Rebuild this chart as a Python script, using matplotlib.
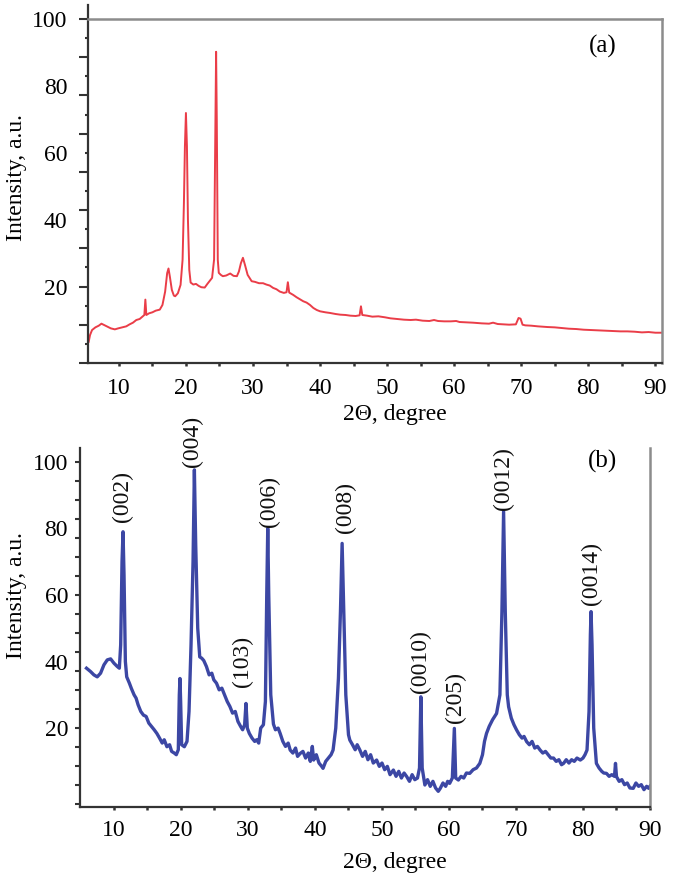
import numpy as np
import matplotlib
matplotlib.use("Agg")
import matplotlib.pyplot as plt

plt.rcParams['font.family'] = ['Liberation Serif', 'DejaVu Serif']

# (a) pattern, red
a_x = [5.5, 5.7, 6.0, 6.5, 7.0, 7.4, 7.8, 8.3, 8.8, 9.4, 9.9, 10.5, 11.1, 11.6, 12.1, 12.6,
       13.1, 13.5, 13.8, 13.95, 14.1, 14.5, 15.0, 15.5, 16.1, 16.5, 16.9, 17.2, 17.4, 17.6,
       17.9, 18.2, 18.4, 18.8, 19.2, 19.5, 19.7, 19.85, 20.0, 20.15, 20.3, 20.5, 20.7, 21.1,
       21.5, 21.9, 22.3, 22.8, 23.2, 23.6, 23.9, 24.2, 24.4, 24.5, 24.6, 24.75, 24.9, 25.2,
       25.5, 26.0, 26.6, 27.1, 27.6, 27.9, 28.2, 28.5, 28.8, 29.2, 29.8, 30.3, 30.9, 31.5,
       32.0, 32.5, 33.0, 33.5, 34.0, 34.6, 35.0, 35.2, 35.4, 36.0, 36.5, 37.0, 37.5, 38.0,
       38.5, 39.0, 39.5, 40.0, 40.8, 41.5, 42.3, 43.0, 43.8, 44.5, 45.3, 45.9, 46.1, 46.3,
       47.0, 47.8, 48.7, 49.7, 50.5, 51.5, 52.5, 53.5, 54.3, 55.3, 56.3, 57.0, 57.6, 58.5,
       59.5, 60.3, 60.8, 61.8, 62.8, 64.1, 65.2, 65.8, 66.5, 67.3, 68.2, 69.2, 69.6, 69.9,
       70.2, 70.6, 71.5, 72.5, 73.9, 75.0, 76.0, 77.1, 78.2, 79.3, 80.4, 81.5, 82.5, 83.7,
       84.8, 85.8, 86.9, 88.0, 89.0, 90.0, 90.9]
a_y = [3.5, 5.5, 7.0, 7.8, 8.3, 8.9, 8.5, 8.0, 7.5, 7.2, 7.5, 7.8, 8.1, 8.7, 9.2, 10.0,
       10.3, 11.0, 11.5, 16.1, 11.5, 12.0, 12.3, 12.8, 13.1, 14.5, 18.5, 24.0, 25.4, 23.0,
       19.0, 17.3, 17.1, 18.0, 20.5, 28.0, 45.0, 62.0, 71.9, 62.0, 40.0, 25.0, 21.2, 20.6,
       20.8, 20.2, 19.8, 19.7, 20.8, 21.8, 22.6, 28.1, 70.0, 90.2, 70.0, 28.0, 24.1, 23.5,
       23.1, 23.3, 23.9, 23.2, 23.1, 24.5, 27.0, 28.6, 26.5, 23.5, 21.6, 21.4, 21.0, 21.0,
       20.6, 20.3, 19.6, 19.2, 18.5, 18.1, 18.3, 21.3, 18.2, 17.5, 16.8, 16.2, 15.6, 15.2,
       14.5, 13.6, 13.0, 12.6, 12.3, 12.1, 11.8, 11.6, 11.5, 11.3, 11.2, 11.4, 14.1, 11.5,
       11.3, 11.0, 11.1, 10.8, 10.5, 10.3, 10.1, 10.0, 10.1, 9.8, 9.7, 10.0, 9.7, 9.6,
       9.6, 9.7, 9.4, 9.3, 9.2, 9.0, 8.9, 9.2, 8.8, 8.7, 8.6, 8.7, 10.6, 10.4,
       8.6, 8.4, 8.3, 8.1, 7.9, 7.8, 7.6, 7.4, 7.3, 7.1, 7.0, 6.9, 6.8, 6.7,
       6.6, 6.6, 6.5, 6.3, 6.4, 6.2, 6.2]

# (b) pattern, blue
b_x = [5.9, 6.5, 7.0, 7.5, 8.0, 8.5, 9.0, 9.5, 10.0, 10.5, 10.8, 11.0, 11.2, 11.35, 11.5,
       11.7, 11.9, 12.3, 12.6, 13.0, 13.3, 13.6, 14.0, 14.4, 14.8, 15.2, 15.6, 16.0, 16.4,
       16.8, 17.2, 17.5, 17.9, 18.3, 18.6, 19.0, 19.3, 19.6, 19.75, 19.85, 19.95, 20.1,
       20.5, 20.9, 21.2, 21.5, 21.8, 22.0, 22.2, 22.5, 22.8, 23.1, 23.4, 23.8, 24.2, 24.6,
       24.9, 25.3, 25.7, 26.1, 26.5, 26.9, 27.3, 27.7, 28.1, 28.5, 28.9, 29.2, 29.5, 29.7,
       29.9, 30.2, 30.6, 31.0, 31.3, 31.6, 31.9, 32.3, 32.6, 32.8, 32.95, 33.1, 33.4, 33.8,
       34.1, 34.5, 34.8, 35.2, 35.6, 36.0, 36.3, 36.7, 37.1, 37.4, 37.8, 38.2, 38.6, 39.0,
       39.3, 39.6, 39.8, 40.2, 40.6, 41.0, 41.2, 41.6, 42.0, 42.4, 42.7, 43.1, 43.5, 43.8,
       44.05, 44.3, 44.6, 45.0, 45.2, 45.6, 46.0, 46.3, 46.7, 47.1, 47.5, 47.9, 48.3, 48.7,
       49.2, 49.6, 50.0, 50.4, 50.8, 51.2, 51.7, 52.1, 52.5, 52.9, 53.3, 53.7, 54.1, 54.5,
       54.9, 55.3, 55.6, 55.8, 56.0, 56.4, 56.8, 57.2, 57.6, 58.0, 58.4, 58.7, 59.1, 59.5,
       59.8, 60.1, 60.5, 60.8, 61.0, 61.4, 61.8, 62.2, 62.6, 63.1, 63.6, 64.1, 64.6, 65.0,
       65.3, 65.6, 66.0, 66.5, 67.1, 67.6, 67.9, 68.15, 68.4, 68.7, 68.9, 69.3, 69.7, 70.1,
       70.5, 70.9, 71.2, 71.6, 72.0, 72.4, 72.8, 73.2, 73.6, 74.0, 74.4, 74.8, 75.2, 75.6,
       76.0, 76.4, 76.8, 77.1, 77.5, 77.9, 78.3, 78.7, 79.1, 79.6, 80.0, 80.3, 80.6, 80.9,
       81.1, 81.2, 81.35, 81.6, 82.0, 82.4, 82.8, 83.1, 83.5, 83.9, 84.3, 84.7, 84.85, 85.0,
       85.4, 85.8, 86.2, 86.6, 87.0, 87.5, 87.9, 88.3, 88.7, 89.1, 89.5, 89.8, 90.0]
b_y = [38.0, 37.0, 36.0, 35.4, 36.5, 39.0, 40.5, 40.8, 39.5, 38.5, 38.0, 45.0, 70.0, 79.0, 66.0,
       40.0, 35.4, 33.5, 31.9, 30.0, 29.0, 27.0, 25.0, 23.9, 23.5, 21.5, 20.5, 19.5, 18.4,
       17.0, 15.5, 16.5, 14.4, 15.0, 13.0, 12.5, 12.0, 13.5, 30.0, 34.9, 28.0, 15.0,
       14.4, 16.0, 25.0, 45.0, 70.0, 97.6, 75.0, 50.0, 41.4, 41.0, 40.3, 38.5, 36.0, 36.5,
       34.5, 33.5, 31.5, 32.0, 30.0, 28.0, 26.5, 24.5, 25.0, 22.0, 20.5, 19.5, 21.0, 27.4,
       20.0, 18.4, 17.0, 16.0, 16.5, 15.5, 20.0, 21.0, 28.0, 60.0, 80.0, 60.0, 30.0, 21.2,
       19.5, 20.0, 18.4, 16.0, 14.5, 15.5, 13.4, 12.5, 14.0, 11.5, 12.4, 13.0, 11.0, 12.5,
       10.0, 14.5, 10.4, 12.0, 9.5, 8.5, 7.9, 10.0, 11.0, 12.0, 13.4, 20.0, 35.0, 55.0,
       75.5, 55.0, 30.0, 18.0, 16.4, 15.0, 13.5, 15.0, 13.4, 11.5, 13.0, 10.5, 12.0, 9.5,
       10.4, 8.5, 9.5, 7.5, 8.5, 6.0, 7.4, 5.5, 7.0, 5.0, 6.5, 5.4, 4.0, 6.0,
       4.5, 5.0, 8.0, 29.4, 8.0, 2.9, 4.5, 2.5, 4.0, 2.0, 1.0, 1.9, 3.5, 2.5,
       4.0, 3.4, 5.0, 19.9, 5.0, 4.4, 5.5, 5.0, 6.5, 6.4, 7.5, 8.0, 9.4, 12.0,
       16.0, 18.4, 20.5, 22.5, 24.4, 30.0, 55.0, 85.1, 55.0, 30.0, 26.4, 23.0, 21.0, 19.4,
       18.0, 17.0, 17.5, 15.9, 15.0, 16.0, 14.0, 14.5, 13.4, 12.5, 13.0, 12.0, 11.0, 11.0,
       10.0, 10.5, 9.0, 9.4, 10.5, 9.5, 10.5, 10.0, 11.0, 10.4, 11.0, 12.0, 13.4, 25.0,
       48.0, 55.0, 45.0, 20.0, 9.4, 8.0, 7.0, 6.5, 6.4, 5.5, 6.0, 5.5, 9.4, 5.4,
       4.0, 4.5, 3.0, 3.5, 2.0, 1.9, 3.5, 2.5, 3.0, 1.5, 2.5, 1.9, 2.5]

hkl_labels = ['(002)', '(004)', '(103)', '(006)', '(008)', '(0010)', '(205)', '(0012)', '(0014)']
hkl_x = [11.2, 21.7, 29.2, 33.2, 44.5, 55.7, 61.0, 68.1, 81.3]
hkl_y = [82.0, 98.5, 32.3, 80.5, 78.6, 30.4, 21.4, 85.6, 57.0]

y_labels = [20, 40, 60, 80, 100]
x_labels = [10, 20, 30, 40, 50, 60, 70, 80, 90]

fs = 17
dark = '#333333'
grey = '#8c8c8c'

fig = plt.figure(figsize=(6.85, 8.8), dpi=100)
ax_a = fig.add_axes([0.1285, 0.5875, 0.838, 0.3909])
ax_b = fig.add_axes([0.1168, 0.0830, 0.8321, 0.4080])


def style_axes(ax, ylow, yhigh, xlow, xhigh, major_step, minor_step, ylab_pad, xlab_pad):
    ax.set_xlim(xlow, xhigh)
    ax.set_ylim(ylow, yhigh)
    for s in ['left', 'bottom']:
        ax.spines[s].set_color(dark)
        ax.spines[s].set_linewidth(1.6)
    for s in ['top', 'right']:
        ax.spines[s].set_color(grey)
        ax.spines[s].set_linewidth(1.8)
    # tick marks on y (not lined up with the labels, like the original)
    ax.set_yticks([100 - k * major_step for k in range(int(round((100 - ylow) / major_step)) + 1)])
    ax.set_yticks([100 - k * minor_step for k in range(int(round((100 - ylow) / minor_step)) + 1)],
                  minor=True)
    ax.tick_params(axis='y', which='both', labelleft=False, direction='out',
                   color=dark, width=1.5)
    ax.set_xticks(x_labels)
    ax.set_xticks(np.arange(15, 90, 10), minor=True)
    ax.tick_params(axis='x', which='both', direction='out', length=2.5, width=1.8,
                   color=dark, labelsize=fs, pad=xlab_pad)
    sec = ax.secondary_yaxis('left')
    sec.set_yticks(y_labels)
    sec.tick_params(length=0, labelsize=fs, pad=ylab_pad)
    sec.spines['left'].set_visible(False)
    return sec


style_axes(ax_a, 100 - 9 * 80 / 7, 100, 5.4, 91.0, 80 / 7, 40 / 7, 15, 8.5)
ax_a.tick_params(axis='y', which='major', length=6.5)
ax_a.tick_params(axis='y', which='minor', length=2.5)
ax_a.spines['left'].set_bounds(100 - 9 * 80 / 7, 104.3)

style_axes(ax_b, -3.7, 104.2, 4.93, 90.0, 40 / 7, 40 / 7, 8.6, 7.2)
ax_b.tick_params(axis='y', which='both', length=3.5)
ax_b.spines['top'].set_visible(False)

ax_a.plot(a_x, a_y, color='#ea3d48', lw=1.4)
ax_b.plot(b_x, b_y, color='#3c47a4', lw=2.4)

for lab, x, y in zip(hkl_labels, hkl_x, hkl_y):
    ax_b.text(x, y, lab, rotation=90, ha='center', va='bottom', fontsize=fs, color='#111111')

ax_a.text(0.897, 0.919, '(a)', transform=ax_a.transAxes, ha='center', va='center', fontsize=18)
ax_b.text(0.916, 0.961, '(b)', transform=ax_b.transAxes, ha='center', va='center', fontsize=18)

for ax, xl, yl in [(ax_a, (0.535, -0.119), (-0.106, 0.538)), (ax_b, (0.553, -0.125), (-0.093, 0.589))]:
    ax.set_xlabel('2Θ, degree', fontsize=fs)
    ax.xaxis.set_label_coords(*xl)
    ax.set_ylabel('Intensity, a.u.', fontsize=fs)
    ax.yaxis.set_label_coords(*yl)

fig.savefig('out.png', dpi=100)
